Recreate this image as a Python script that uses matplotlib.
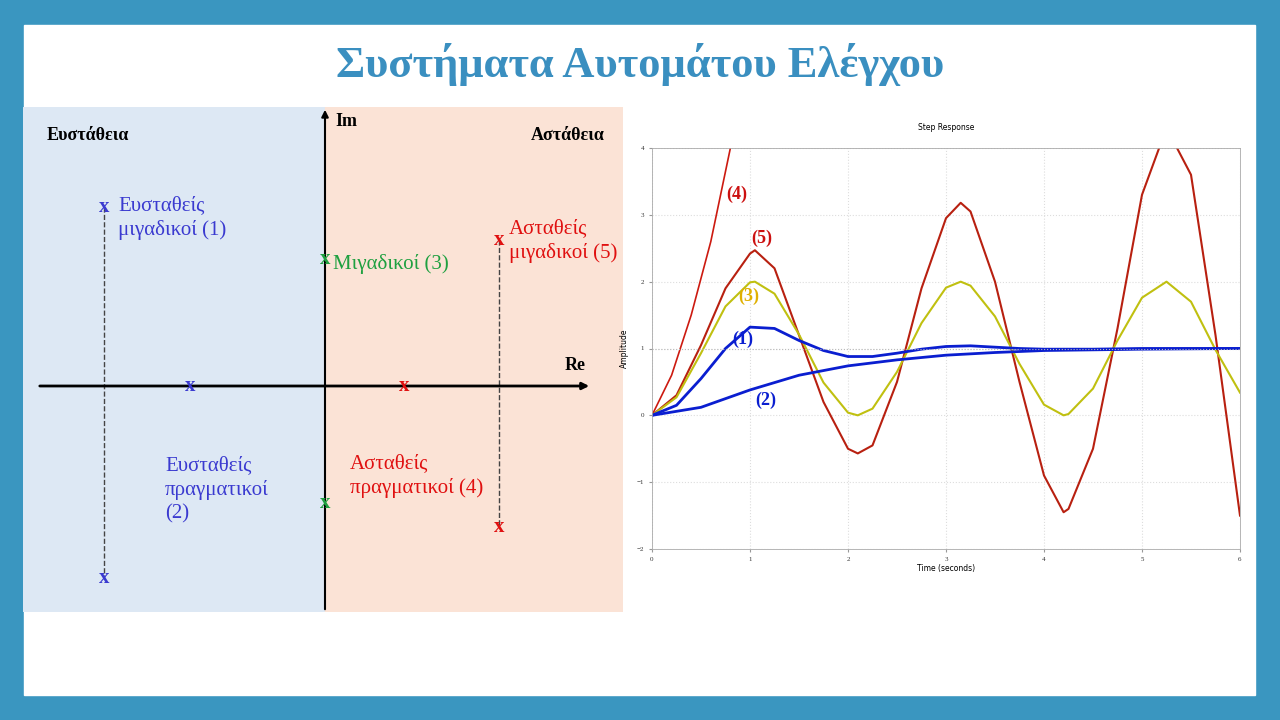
import numpy as np
import matplotlib.pyplot as plt
from matplotlib.patches import Rectangle

plt.rcParams['font.family'] = ['Liberation Serif', 'DejaVu Serif']

# Poles in the s-plane (Re, Im)
p1 = [(-2.21, 1.79), (-2.21, -1.92)]
p2 = [(-1.35, 0.0)]
p3 = [(0.0, 1.27), (0.0, -1.17)]
p4 = [(0.79, 0.0)]
p5 = [(1.74, 1.46), (1.74, -1.41)]

# Step responses
t1 = [0, .25, .5, .75, 1, 1.25, 1.5, 1.75, 2, 2.25, 2.5, 2.75, 3, 3.25, 3.5, 3.75, 4, 4.5, 5, 6]
y1 = [0, .15, .55, 1.0, 1.32, 1.3, 1.12, .97, .88, .88, .93, .99, 1.03, 1.04, 1.02, 1.0, .99, .99, 1.0, 1.0]
t2 = [0, .5, 1, 1.5, 2, 2.5, 3, 3.5, 4, 4.5, 5, 6]
y2 = [0, .12, .38, .6, .74, .83, .9, .94, .97, .98, .99, 1.0]
t3 = [0, .25, .5, .75, 1, 1.05, 1.25, 1.5, 1.75, 2, 2.1, 2.25, 2.5, 2.75, 3, 3.15, 3.25, 3.5, 3.75, 4, 4.2,
      4.25, 4.5, 4.75, 5, 5.25, 5.5, 5.75, 6]
y3 = [0, .27, .93, 1.63, 1.99, 2.0, 1.82, 1.21, .49, .04, 0, .1, .65, 1.38, 1.91, 2.0, 1.94, 1.48, .77, .16, 0,
      .02, .4, 1.12, 1.76, 2.0, 1.7, .98, .34]
t4 = [0, .2, .4, .6, .8, 1.0]
y4 = [0, .6, 1.5, 2.6, 4.0, 5.6]
t5 = [0, .25, .5, .75, 1, 1.05, 1.25, 1.5, 1.75, 2, 2.1, 2.25, 2.5, 2.75, 3, 3.15, 3.25, 3.5, 3.75, 4, 4.2,
      4.25, 4.5, 4.75, 5, 5.25, 5.5, 5.75, 6]
y5 = [0, .3, 1.05, 1.9, 2.42, 2.47, 2.2, 1.2, .2, -.5, -.57, -.45, .5, 1.9, 2.95, 3.18, 3.05, 2.0, .5, -.9, -1.45,
      -1.4, -.5, 1.3, 3.3, 4.3, 3.6, 1.2, -1.5]

fig = plt.figure(figsize=(12.8, 7.2), dpi=100)
fig.patch.set_facecolor('#3a96c0')
bg = fig.add_axes([0, 0, 1, 1])
bg.set_xlim(0, 1280); bg.set_ylim(720, 0); bg.axis('off')
bg.add_patch(Rectangle((24, 25), 1231, 670, color='white'))
bg.text(640, 65, 'Συστήματα Αυτομάτου Ελέγχου', ha='center', va='center',
        fontsize=32, fontweight='bold', color='#3a8fc0')

# s-plane panel
W, H = 1280, 720
ax = fig.add_axes([23 / W, 1 - 612 / H, 600 / W, 505 / H])
ax.set_xlim(-3.02, 2.98); ax.set_ylim(-2.26, 2.79); ax.axis('off')
ax.add_patch(Rectangle((-3.02, -2.26), 3.02, 5.05, color='#dde8f4', zorder=0))
ax.add_patch(Rectangle((0, -2.26), 2.98, 5.05, color='#fbe3d6', zorder=0))
ax.annotate('', xy=(2.67, 0), xytext=(-2.88, 0),
            arrowprops=dict(arrowstyle='-|>', color='black', lw=2))
ax.annotate('', xy=(0, 2.79), xytext=(0, -2.26),
            arrowprops=dict(arrowstyle='-|>', color='black', lw=1.5))
ax.text(2.4, 0.12, 'Re', fontsize=13, fontweight='bold', va='bottom')
ax.text(0.1, 2.65, 'Im', fontsize=13, fontweight='bold', va='center')
ax.text(-2.78, 2.5, 'Ευστάθεια', fontsize=13, fontweight='bold', va='center')
ax.text(2.8, 2.5, 'Αστάθεια', fontsize=13, fontweight='bold', va='center', ha='right')

ax.plot([p1[0][0], p1[1][0]], [p1[0][1], p1[1][1]], '--', color='#444444', lw=1)
ax.plot([p5[0][0], p5[1][0]], [p5[0][1], p5[1][1]], '--', color='#444444', lw=1)
for poles, col in [(p1, '#3a3ad0'), (p2, '#3a3ad0'), (p3, '#1fa040'), (p4, '#e01010'), (p5, '#e01010')]:
    for re, im in poles:
        ax.text(re, im, 'x', color=col, fontsize=15, fontweight='bold', ha='center', va='center')

ax.text(-2.07, 1.68, 'Ευσταθείς\nμιγαδικοί (1)', color='#3a3ad0', fontsize=15, va='center', linespacing=1.3)
ax.text(-1.6, -0.7, 'Ευσταθείς\nπραγματικοί\n(2)', color='#3a3ad0', fontsize=15, va='top', linespacing=1.3)
ax.text(0.08, 1.22, 'Μιγαδικοί (3)', color='#1fa040', fontsize=15, va='center')
ax.text(0.25, -0.68, 'Ασταθείς\nπραγματικοί (4)', color='#e01010', fontsize=15, va='top', linespacing=1.3)
ax.text(1.84, 1.45, 'Ασταθείς\nμιγαδικοί (5)', color='#e01010', fontsize=15, va='center', linespacing=1.3)

# step response
sx = fig.add_axes([652 / W, 1 - 549 / H, 588 / W, 401 / H])
sx.plot(t4, y4, color='#cc1a10', lw=1.2)
sx.plot(t5, y5, color='#b82010', lw=1.5)
sx.plot(t3, y3, color='#c0c010', lw=1.5)
sx.plot(t1, y1, color='#0a1ed0', lw=2)
sx.plot(t2, y2, color='#0a1ed0', lw=2)
sx.axhline(1, color='#bbbbbb', lw=0.8, ls=':')
sx.set_xlim(0, 6); sx.set_ylim(-2, 4)
sx.grid(True, color='#dddddd', ls=':', lw=0.8)
sx.tick_params(labelsize=5, length=2, color='#999999', labelcolor='#333333')
sx.set_xticks(range(0, 7)); sx.set_yticks(range(-2, 5))
for s in sx.spines.values():
    s.set_color('#aaaaaa'); s.set_linewidth(0.6)
sx.set_title('Step Response', fontsize=5.5, family='DejaVu Sans', pad=13)
sx.set_xlabel('Time (seconds)', fontsize=5.5, family='DejaVu Sans', labelpad=2)
sx.set_ylabel('Amplitude', fontsize=5.5, family='DejaVu Sans', labelpad=6)
lab = dict(fontsize=13, fontweight='bold', ha='center', va='center')
sx.text(0.86, 3.3, '(4)', color='#cc1010', **lab)
sx.text(1.12, 2.65, '(5)', color='#cc1010', **lab)
sx.text(0.99, 1.78, '(3)', color='#e0b000', **lab)
sx.text(0.93, 1.13, '(1)', color='#0a1ed0', **lab)
sx.text(1.16, 0.22, '(2)', color='#0a1ed0', **lab)

fig.savefig('out.png', dpi=100, facecolor=fig.get_facecolor())
